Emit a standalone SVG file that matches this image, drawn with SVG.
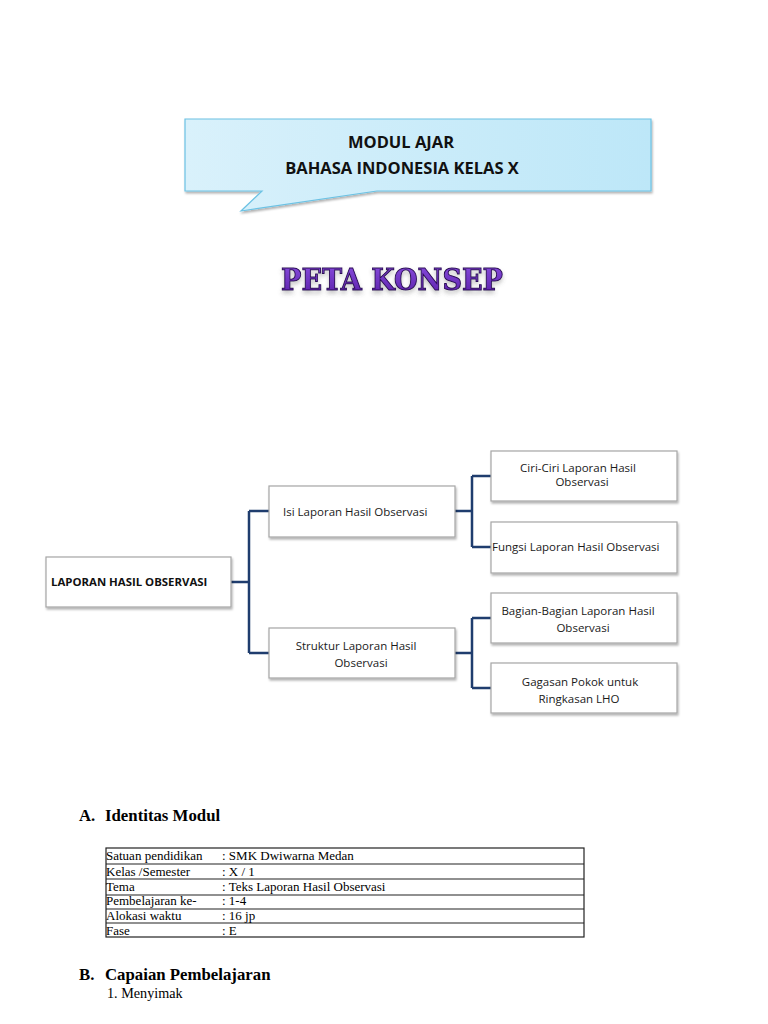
<svg xmlns="http://www.w3.org/2000/svg" width="768" height="1024" viewBox="0 0 768 1024">
<defs>
<linearGradient id="cg" x1="0" y1="0" x2="1" y2="0">
<stop offset="0" stop-color="#d9f1fb"/>
<stop offset="1" stop-color="#bde7f8"/>
</linearGradient>
<linearGradient id="pg" x1="0" y1="0" x2="0" y2="1">
<stop offset="0" stop-color="#8a4fe0"/>
<stop offset="1" stop-color="#5a1fa8"/>
</linearGradient>
<filter id="sh" x="-10%" y="-10%" width="120%" height="130%">
<feDropShadow dx="1" dy="2" stdDeviation="1.2" flood-color="#000" flood-opacity="0.3"/>
</filter>
<filter id="tsh" x="-5%" y="-20%" width="110%" height="160%">
<feDropShadow dx="0" dy="3" stdDeviation="2" flood-color="#555" flood-opacity="0.35"/>
</filter>
</defs>
<style>
.box{fill:#fff;stroke:#a6a6a6;stroke-width:1.2;filter:url(#sh)}
.nt{font-family:"Open Sans","Liberation Sans",sans-serif;font-size:11.5px;fill:#1a1a1a}
.con{fill:none;stroke:#1f3d6e;stroke-width:2.5}
.h{font-family:"Liberation Serif",serif;font-size:16.8px;font-weight:bold;fill:#000}
.t{font-family:"Liberation Serif",serif;font-size:13px;fill:#000}
.b{font-family:"Liberation Serif",serif;font-size:14.2px;fill:#000}
.tl{stroke:#222;stroke-width:1.2;fill:none}
</style>
<rect width="768" height="1024" fill="#fff"/>

<g id="callout">
<path d="M185,119 H651 V191 H377 L241,211 L262,191 H185 Z" fill="url(#cg)" stroke="#6cc2e4" stroke-width="1.2" filter="url(#sh)"/>
<text x="401" y="148" text-anchor="middle" font-family="'Open Sans','Liberation Sans',sans-serif" font-weight="bold" font-size="16.5" fill="#111">MODUL AJAR</text>
<text x="402" y="174" text-anchor="middle" font-family="'Open Sans','Liberation Sans',sans-serif" font-weight="bold" font-size="16.5" fill="#111">BAHASA INDONESIA KELAS X</text>
</g>

<g id="title">
<text x="281" y="290" font-family="'DejaVu Serif',serif" font-weight="bold" font-size="30" textLength="222" lengthAdjust="spacingAndGlyphs" fill="url(#pg)" stroke="#2a0a55" stroke-width="1" filter="url(#tsh)">PETA KONSEP</text>
</g>

<g id="connectors">
<path class="con" d="M231,582 H249 M249,511 V653 M249,511 H269 M249,653 H269"/>
<path class="con" d="M455,511 H472 M472,476 V547 M472,476 H491 M472,547 H491"/>
<path class="con" d="M455,653 H472 M472,618 V688 M472,618 H491 M472,688 H491"/>
</g>

<g id="n-root">
<rect class="box" x="46" y="557" width="185" height="50"/>
<text x="51" y="586" font-family="'Open Sans','Liberation Sans',sans-serif" font-weight="bold" font-size="11.4" fill="#111">LAPORAN HASIL OBSERVASI</text>
</g>
<g id="n-isi">
<rect class="box" x="269" y="486" width="186" height="51"/>
<text class="nt" x="283" y="516">Isi Laporan Hasil Observasi</text>
</g>
<g id="n-struktur">
<rect class="box" x="269" y="628" width="186" height="50"/>
<text class="nt" x="356" y="650" text-anchor="middle">Struktur Laporan Hasil</text>
<text class="nt" x="361" y="667" text-anchor="middle">Observasi</text>
</g>
<g id="n-ciri">
<rect class="box" x="491" y="451" width="186" height="50"/>
<text class="nt" x="578" y="472" text-anchor="middle">Ciri-Ciri Laporan Hasil</text>
<text class="nt" x="582" y="486" text-anchor="middle">Observasi</text>
</g>
<g id="n-fungsi">
<rect class="box" x="491" y="522" width="186" height="51"/>
<text class="nt" x="492" y="551">Fungsi Laporan Hasil Observasi</text>
</g>
<g id="n-bagian">
<rect class="box" x="491" y="593" width="186" height="50"/>
<text class="nt" x="578" y="615" text-anchor="middle">Bagian-Bagian Laporan Hasil</text>
<text class="nt" x="583" y="632" text-anchor="middle">Observasi</text>
</g>
<g id="n-gagasan">
<rect class="box" x="491" y="663" width="186" height="50"/>
<text class="nt" x="580" y="686" text-anchor="middle">Gagasan Pokok untuk</text>
<text class="nt" x="579" y="703" text-anchor="middle">Ringkasan LHO</text>
</g>

<g id="sectionA">
<text class="h" x="79" y="821">A.</text>
<text class="h" x="105" y="821">Identitas Modul</text>
<rect class="tl" x="106" y="848" width="478" height="89"/>
<path class="tl" d="M106,864 H584 M106,879 H584 M106,895 H584 M106,909 H584 M106,923 H584"/>
<g class="t">
<text x="106" y="860">Satuan pendidikan</text><text x="222" y="860">: SMK Dwiwarna Medan</text>
<text x="106" y="875.5">Kelas /Semester</text><text x="222" y="875.5">: X / 1</text>
<text x="106" y="890.5">Tema</text><text x="222" y="890.5">: Teks Laporan Hasil Observasi</text>
<text x="106" y="905">Pembelajaran ke-</text><text x="222" y="905">: 1-4</text>
<text x="106" y="919.5">Alokasi waktu</text><text x="222" y="919.5">: 16 jp</text>
<text x="106" y="935">Fase</text><text x="222" y="935">: E</text>
</g>
</g>

<g id="sectionB">
<text class="h" x="79" y="980">B.</text>
<text class="h" x="105" y="980">Capaian Pembelajaran</text>
<text class="b" x="107" y="998">1. Menyimak</text>
</g>
</svg>
